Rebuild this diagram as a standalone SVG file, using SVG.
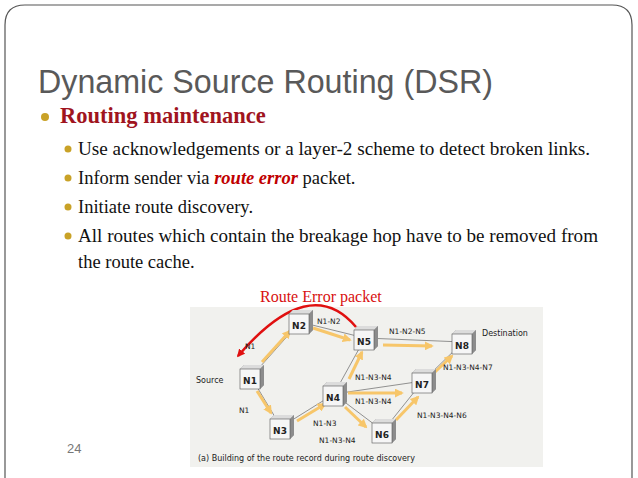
<svg xmlns="http://www.w3.org/2000/svg" width="638" height="478" viewBox="0 0 638 478">
<defs>
<marker id="ya" viewBox="0 0 10 10" refX="8" refY="5" markerWidth="3" markerHeight="3" orient="auto"><path d="M0,0L10,5L0,10z" fill="#f7c66a"/></marker>
<marker id="ra" viewBox="0 0 10 10" refX="8" refY="5" markerWidth="3.2" markerHeight="3.2" orient="auto"><path d="M0,0L10,5L0,10z" fill="#e01010"/></marker>
<g id="box"><polygon points="-11,-8 -7,-12 13,-12 13,8 9,12 -11,12" fill="#9a9a9a"/><polygon points="-11,-8 -7,-12 13,-12 9,-8" fill="#dcdcdc"/><polygon points="9,-8 13,-12 13,8 9,12" fill="#8c8c8c"/><rect x="-11" y="-8" width="20" height="20" fill="#f6f6f6" stroke="#555" stroke-width="0.6"/></g>
</defs>
<style>
.t{font-family:"Liberation Serif",serif;font-size:18.5px;fill:#111}
.d{fill:#c9a227}
.l{stroke:#777;stroke-width:0.8;fill:none}
.y{stroke:#f7c66a;stroke-width:3;fill:none;marker-end:url(#ya)}
.n{font-family:"DejaVu Sans",sans-serif;font-size:9px;font-weight:bold;fill:#222;text-anchor:middle}
.s{font-family:"DejaVu Sans",sans-serif;font-size:7.5px;fill:#222}
</style>
<rect width="638" height="478" fill="#fff"/>
<path d="M5,478V25Q5,5 25,5H612Q632,5 632,25V478" fill="none" stroke="#555" stroke-width="1.2"/>
<text x="38" y="93" font-family="Liberation Sans Narrow,Liberation Sans,sans-serif" font-size="33" fill="#595959" textLength="455" lengthAdjust="spacingAndGlyphs">Dynamic Source Routing (DSR)</text>
<circle cx="45" cy="117" r="4" class="d"/>
<text x="60" y="123" font-family="Liberation Serif,serif" font-size="22.5" font-weight="bold" fill="#a0141e">Routing maintenance</text>
<g class="t">
<circle cx="68" cy="149" r="3.5" class="d"/><text x="78" y="155" textLength="512" lengthAdjust="spacingAndGlyphs">Use acknowledgements or a layer-2 scheme to detect broken links.</text>
<circle cx="68" cy="178" r="3.5" class="d"/><text x="78" y="184">Inform sender via <tspan font-weight="bold" font-style="italic" fill="#c00000">route error</tspan> packet.</text>
<circle cx="68" cy="207" r="3.5" class="d"/><text x="78" y="213">Initiate route discovery.</text>
<circle cx="68" cy="236" r="3.5" class="d"/><text x="78" y="242" textLength="520" lengthAdjust="spacingAndGlyphs">All routes which contain the breakage hop have to be removed from</text>
<text x="78" y="268">the route cache.</text>
</g>
<text x="67" y="453" font-family="Liberation Sans,sans-serif" font-size="13" fill="#777">24</text>
<rect x="190" y="307" width="353" height="160" fill="#f1f1ee"/>
<g id="connectors">
<path class="l" d="M251,377L300,322M300,322L365,338M365,338L463,342M251,377L281,427M281,427L334,394M334,394L365,338M334,394L423,381M334,394L383,431M383,431L423,381M423,381L463,342"/>
<path class="y" d="M262,362L290,331"/>
<path class="y" d="M313,328L350,340"/>
<path class="y" d="M383,345L432,346"/>
<path class="y" d="M257,391L271,413"/>
<path class="y" d="M297,421L325,404"/>
<path class="y" d="M349,379L362,352"/>
<path class="y" d="M348,393L402,393"/>
<path class="y" d="M345,407L366,427"/>
<path class="y" d="M396,420L418,397"/>
<path class="y" d="M435,372L452,356"/>
<path d="M356,327Q310,272 238,356" stroke="#e01010" stroke-width="2.5" fill="none" marker-end="url(#ra)"/>
</g>
<text x="260" y="302" font-family="Liberation Serif,serif" font-size="16" fill="#d81010">Route Error packet</text>
<g id="N1"><use href="#box" x="251" y="377"/><text class="n" x="250" y="384">N1</text></g>
<g id="N2"><use href="#box" x="300" y="322"/><text class="n" x="299" y="329">N2</text></g>
<g id="N3"><use href="#box" x="281" y="427"/><text class="n" x="280" y="434">N3</text></g>
<g id="N4"><use href="#box" x="334" y="394"/><text class="n" x="333" y="401">N4</text></g>
<g id="N5"><use href="#box" x="365" y="338"/><text class="n" x="364" y="345">N5</text></g>
<g id="N6"><use href="#box" x="383" y="431"/><text class="n" x="382" y="438">N6</text></g>
<g id="N7"><use href="#box" x="423" y="381"/><text class="n" x="422" y="388">N7</text></g>
<g id="N8"><use href="#box" x="463" y="342"/><text class="n" x="462" y="349">N8</text></g>
<g class="s">
<text x="196" y="383" font-size="8">Source</text>
<text x="482" y="336" font-size="8">Destination</text>
<text x="317" y="324">N1-N2</text>
<text x="389" y="334">N1-N2-N5</text>
<text x="245" y="349">N1</text>
<text x="239" y="413">N1</text>
<text x="355" y="380">N1-N3-N4</text>
<text x="355" y="404">N1-N3-N4</text>
<text x="443" y="370">N1-N3-N4-N7</text>
<text x="417" y="418">N1-N3-N4-N6</text>
<text x="313" y="426">N1-N3</text>
<text x="319" y="443">N1-N3-N4</text>
<text x="198" y="461" font-size="8">(a) Building of the route record during route discovery</text>
</g>
</svg>
